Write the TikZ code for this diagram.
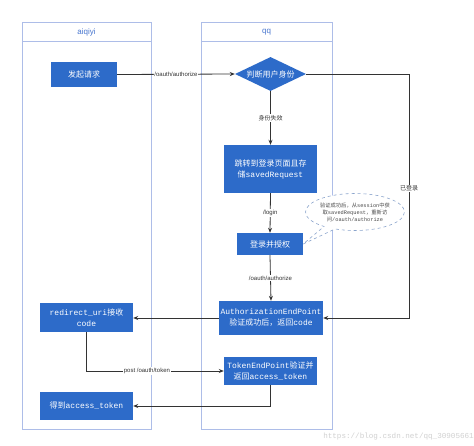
\documentclass[tikz,border=0pt]{standalone}
\usepackage{fontspec}
\setmainfont{Liberation Sans}
\newfontfamily\cjk{Noto Sans CJK SC}
\newfontfamily\mono{Liberation Mono}
\usetikzlibrary{shapes.geometric,shapes.callouts,arrows.meta}
\definecolor{boxblue}{HTML}{2D6BC9}
\definecolor{lanec}{HTML}{ADBDE8}
\definecolor{titlec}{HTML}{4A78D0}
\definecolor{linec}{HTML}{333333}
\definecolor{notec}{HTML}{8AA4CC}
\tikzset{
  lane/.style={draw=lanec, line width=0.9pt},
  lanetitle/.style={text=titlec, font=\fontsize{8}{10}\selectfont},
  bluebox/.style={fill=boxblue, draw=none, text=white, align=center, inner sep=0pt,
    font=\fontsize{8}{11}\selectfont},
  conn/.style={draw=linec, line width=0.8pt, -{Stealth[length=5pt,width=4pt]}},
  lbl/.style={fill=white, inner sep=0.8pt, text=linec, font=\fontsize{6}{7}\selectfont},
}
\begin{document}
\begin{tikzpicture}[x=1pt,y=-1pt]
\useasboundingbox[fill=white] (0,0) rectangle (474,445);
% lanes
\draw[lane] (22,22) rectangle (151,429);
\draw[lane] (22,41) -- (151,41);
\node[lanetitle] (t1) at (86.5,32) {aiqiyi};
\draw[lane] (201,22) rectangle (332,429);
\draw[lane] (201,41) -- (332,41);
\node[lanetitle] (t2) at (266.5,32) {qq};
% nodes
\node[bluebox, minimum width=66pt, minimum height=25pt] (req) at (84,74.5) {{\cjk 发起请求}};
\node[diamond, fill=boxblue, draw=none, text=white, inner sep=0pt, aspect=2.09,
  minimum width=71pt, minimum height=34pt, font=\fontsize{8}{10}\selectfont] (judge) at (270.5,74) {{\cjk 判断用户身份}};
\node[bluebox, minimum width=93pt, minimum height=48pt] (jump) at (270.5,169)
  {{\cjk 跳转到登录页面且存}\\{\cjk 储}{\mono savedRequest}};
\node[bluebox, minimum width=66pt, minimum height=22pt] (login) at (270,244) {{\cjk 登录并授权}};
\node[bluebox, minimum width=104pt, minimum height=34pt] (authz) at (271,318)
  {{\mono AuthorizationEndPoint}\\{\cjk 验证成功后，返回}{\mono code}};
\node[bluebox, minimum width=93pt, minimum height=29pt] (redir) at (86.5,317.5)
  {{\mono redirect\_uri}{\cjk 接收}\\{\mono code}};
\node[bluebox, minimum width=93pt, minimum height=28pt] (token) at (270.5,371)
  {{\mono TokenEndPoint}{\cjk 验证并}\\{\cjk 返回}{\mono access\_token}};
\node[bluebox, minimum width=93pt, minimum height=28pt] (got) at (86.5,406)
  {{\cjk 得到}{\mono access\_token}};
% callout
\node[ellipse callout, draw=notec, dashed, line width=0.6pt, fill=white,
  minimum width=90pt, minimum height=37pt, inner sep=0pt, align=center,
  callout absolute pointer={(login.east)}, text=linec!90,
  font=\fontsize{5.3}{7}\selectfont] (note) at (355,212)
  {{\cjk 验证成功后，从}{\mono session}{\cjk 中获}\\{\cjk 取}{\mono savedRequest}{\cjk ，重新访}\\{\cjk 问}{\mono /oauth/authorize}};
% connectors
\coordinate (rt) at (409,74);
\draw[conn] (req.east) -- node[lbl] {/oauth/authorize} (judge.west);
\draw[conn] (judge.south) -- node[lbl] {{\cjk 身份失效}} (jump.north);
\draw[conn] (jump.south) -- node[lbl] {/login} (login.north);
\draw[conn] (login.south) -- node[lbl] {/oauth/authorize} (authz.north);
\draw[conn] (judge.east) -- (rt) -- node[lbl, pos=0.47] {{\cjk 已登录}} (rt |- authz.east) -- (authz.east);
\draw[conn] (authz.west) -- (redir.east |- authz.west);
\draw[conn] (redir.south) |- node[lbl, pos=0.72] {post /oauth/token} (token.west);
\draw[conn] (token.south) |- (got.east);
% watermark
\node[anchor=east, text=black!18, inner sep=0pt, font=\mono\fontsize{7.6}{8}\selectfont] (wm) at (474,437) {https://blog.csdn.net/qq\_30905661};
\end{tikzpicture}
\end{document}
